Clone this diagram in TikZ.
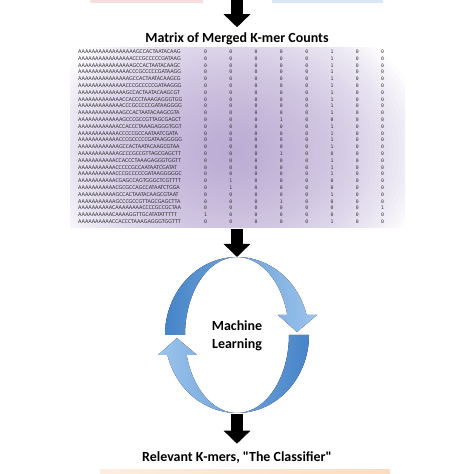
\documentclass[tikz,border=0pt]{standalone}
\usepackage{fontspec}
\setmainfont{Carlito}
\newfontfamily\countfont{DejaVu Sans Mono}
\usetikzlibrary{arrows.meta}
\definecolor{seqink}{gray}{0.20}
\definecolor{glow}{RGB}{166,146,198}
\definecolor{bluedark}{RGB}{70,132,200}
\definecolor{bluelight}{RGB}{156,196,236}
\definecolor{stripred}{RGB}{246,222,222}
\definecolor{stripblue}{RGB}{218,230,244}
\definecolor{striporange}{RGB}{244,168,98}
\ExplSyntaxOn
\newcommand{\arun}[1]{\prg_replicate:nn{#1}{A}}
\ExplSyntaxOff

\begin{document}
\begin{tikzpicture}[x=1bp, y=1bp,
  heading/.style={font=\fontsize{14}{17.6}\selectfont\bfseries, text=black, inner sep=0pt},
  kmer/.style={font=\fontsize{5.9}{6}\selectfont, text=seqink, inner sep=0pt, anchor=west},
  count/.style={font=\countfont\fontsize{4.8}{5}\selectfont, text=seqink, inner sep=0pt},
  downarrow/.style={draw=black, line width=12bp, -{Triangle[length=13bp, width=26bp]}}]
\useasboundingbox (0,0) rectangle (474,474);

% edges of the panels above and below
\fill[stripred] (90,471) rectangle (203,474);
\fill[stripblue] (272,471) rectangle (383,474);
\fill[left color=striporange!20!white, middle color=striporange, right color=striporange!40!white]
  (100,0) rectangle (390,4);

\coordinate (feed) at (237,474);
\node[heading, anchor=base] (matrixtitle) at (237,431.3) {Matrix of Merged K-mer Counts};
\draw[downarrow] (feed) -- ([yshift=5.5]matrixtitle.north);

% matrix of counts, soft glow behind it
\begin{scope}
\clip (70,246) rectangle (405,426);
\foreach \r in {1,...,40}
  \fill[glow, opacity=0.036] (232,322) ellipse [x radius=\r*4.9, y radius=\r*3.9];
\end{scope}
\foreach \na/\tail/\hit [count=\i] in {
  17/GCCACTAATACAAG/6, 16/CCCGCCCCCGATAAG/6, 16/GCCACTAATACAAGC/6,
  15/CCCGCCCCCGATAAGG/6, 15/GCCACTAATACAAGCG/6, 14/CCCGCCCCCGATAAGGG/6,
  14/GCCACTAATACAAGCGT/6, 13/CCACCCTAAAGAGGGTGG/6, 13/CCCGCCCCCGATAAGGGG/6,
  13/GCCACTAATACAAGCGTA/6, 13/GCCCGCCGTTAGCGAGCT/4, 12/CCACCCTAAAGAGGGTGGT/6,
  12/CCCCCGCCAATAATCGATA/6, 12/CCCGCCCCCGATAAGGGGG/6, 12/GCCACTAATACAAGCGTAA/6,
  12/GCCCGCCGTTAGCGAGCTT/4, 11/CCACCCTAAAGAGGGTGGTT/6, 11/CCCCCGCCAATAATCGATAT/6,
  11/CCCGCCCCCGATAAGGGGGC/6, 11/CGAGCCAGTGGGCTCGTTTT/2, 11/CGCGCCAGCCATAATCTGGA/2,
  11/GCCACTAATACAAGCGTAAT/6, 11/GCCCGCCGTTAGCGAGCTTA/4, 10/CAAAAAAAACCCCGCCGCTAA/8,
  10/CAAAAGGTTGCATATATTTTT/1, 10/CCACCCTAAAGAGGGTGGTTT/6} {
  \pgfmathsetmacro\rowy{422.3-(\i-1)*6.8}
  \node[kmer] (kmer\i) at (78,\rowy) {\arun{\na}\tail};
  \foreach \j in {1,...,8}
    \node[count] (count\i-\j) at ({205.5+(\j-1)*25.3},\rowy) {\ifnum\j=\hit\relax 1\else 0\fi};
}

\coordinate (matrixbase) at (237,245);
\coordinate (cycletop) at (237,217);
\coordinate (cyclebottom) at (237,60);
\draw[downarrow] (matrixbase) -- (cycletop);

% learning cycle
\fill[left color=bluedark, right color=bluelight]
  (165,139) arc[start angle=180, end angle=14.86, x radius=72, y radius=78]
  -- (317,159) -- (297,142) -- (278,159) -- (287.3,159)
  arc[start angle=14.86, end angle=180, x radius=52, y radius=78] -- cycle;
\fill[left color=bluelight, right color=bluedark]
  (309,139) arc[start angle=0, end angle=-165.14, x radius=72, y radius=78]
  -- (158,119) -- (177,136) -- (197,119) -- (186.7,119)
  arc[start angle=-165.14, end angle=0, x radius=52, y radius=78] -- cycle;
\node[heading, align=center] (learning) at (237,138) {Machine\\Learning};

\node[heading, anchor=base] (classifier) at (237,12.3) {Relevant K-mers, \textquotedbl The Classifier\textquotedbl};
\draw[downarrow] (cyclebottom) -- ([yshift=8]classifier.north);
\end{tikzpicture}
\end{document}
